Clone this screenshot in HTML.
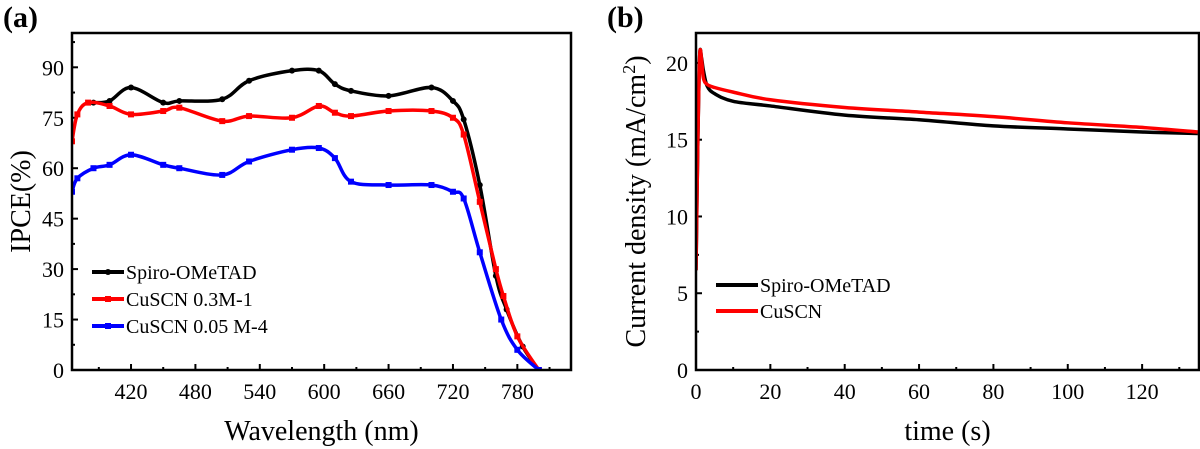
<!DOCTYPE html>
<html><head><meta charset="utf-8"><style>
html,body{margin:0;padding:0;background:#fff;}
svg{display:block;font-family:"Liberation Serif",serif;}
</style></head><body>
<svg id="c" width="1200" height="449" viewBox="0 0 1200 449"></svg>
<script>
// Panel (a) data
const aTicksX=[420,480,540,600,660,720,780];
const aTicksY=[0,15,30,45,60,75,90];
const spiroX=[385,400,420,450,465,505,530,570,595,610,625,660,700,720,730,745,760,770,785,800];
const spiroY=[79.5,80,84,79.5,80,80.5,86,89,89,85,83,81.5,84,80,74.5,55,28,18,7,0];
const redX=[365,370,380,400,420,450,465,505,530,570,595,610,625,660,700,720,730,745,760,767,780,800];
const redY=[68,76,79.5,78.5,76,77,78,74,75.5,75,78.5,76.5,75.5,77,77,75,70,50,30,22,10,0];
const blueX=[365,370,385,400,420,450,465,505,530,570,595,610,625,660,700,720,730,745,765,780,800];
const blueY=[53,57,60,61,64,61,60,58,62,65.5,66,63,56,55,55,53,51,35,15,6,0];
// Panel (b) data
const bTicksX=[0,20,40,60,80,100,120];
const bTicksY=[0,5,10,15,20];
const bSpiroT=[0,0.5,1,1.5,2,3,5,10,20,40,60,80,100,120,135];
const bSpiroJ=[6.5,15,20.5,20.3,19.5,18.5,18,17.5,17.2,16.6,16.3,15.9,15.7,15.5,15.4];
const bCuT=[0,0.5,1,1.5,2,3,5,10,20,40,60,80,100,120,135];
const bCuJ=[6.5,15,20.5,20.2,19,18.6,18.4,18.1,17.6,17.1,16.8,16.5,16.1,15.8,15.5];

const NS='http://www.w3.org/2000/svg';
const svg=document.getElementById('c');
function mk(tag,attrs,parent){const e=document.createElementNS(NS,tag);for(const k in attrs)e.setAttribute(k,attrs[k]);(parent||svg).appendChild(e);return e;}
function txt(s,attrs,parent){const e=mk('text',attrs,parent);e.textContent=s;return e;}
function smooth(pts){
  let d='M'+pts[0][0]+','+pts[0][1];
  for(let i=0;i<pts.length-1;i++){
    const p0=pts[Math.max(i-1,0)],p1=pts[i],p2=pts[i+1],p3=pts[Math.min(i+2,pts.length-1)];
    const c1x=p1[0]+(p2[0]-p0[0])/6,c1y=p1[1]+(p2[1]-p0[1])/6;
    const c2x=p2[0]-(p3[0]-p1[0])/6,c2y=p2[1]-(p3[1]-p1[1])/6;
    d+=` C${c1x},${c1y} ${c2x},${c2y} ${p2[0]},${p2[1]}`;
  }
  return d;
}
function panel(o){
  const g=mk('g',{});
  
  
  const sx=v=>o.L+(v-o.x0)/(o.x1-o.x0)*(o.R-o.L);
  const sy=v=>o.B-(v-o.y0)/(o.y1-o.y0)*(o.B-o.T);
  o.xt.forEach(v=>{
    const t=mk('line',{x1:sx(v),x2:sx(v),y1:o.B,y2:o.B-6,stroke:'#000','stroke-width':2},g);
    
    const l=txt(String(v),{x:sx(v),y:o.B+29,'text-anchor':'middle','font-size':22},g);
    
  });
  for(let v=o.xm0;v<o.x1;v+=o.xmStep){mk('line',{x1:sx(v),x2:sx(v),y1:o.B,y2:o.B-3,stroke:'#000','stroke-width':2},g);}
  o.yt.forEach(v=>{
    mk('line',{x1:o.L,x2:o.L+6,y1:sy(v),y2:sy(v),stroke:'#000','stroke-width':2},g);
    const l=txt(String(v),{x:o.L-8,y:sy(v)+8,'text-anchor':'end','font-size':22},g);
    
  });
  for(let v=o.ym0;v<o.y1;v+=o.ymStep){mk('line',{x1:o.L,x2:o.L+3,y1:sy(v),y2:sy(v),stroke:'#000','stroke-width':2},g);}
  const cg=mk('g',{'clip-path':'url(#'+o.clip+')'},g);
  const cp=mk('clipPath',{id:o.clip},g);mk('rect',{x:o.L,y:o.T,width:o.R-o.L,height:o.B-o.T},cp);
  o.series.forEach(s=>{
    const pts=s.x.map((v,i)=>[sx(v),sy(s.y[i])]);
    const p=mk('path',{d:smooth(pts),fill:'none',stroke:s.c,'stroke-width':3.5},cg);
    
    if(s.marker){pts.forEach(q=>{
      const m=s.marker==='circle'?mk('circle',{cx:q[0],cy:q[1],r:3,fill:s.c},cg):mk('rect',{x:q[0]-3,y:q[1]-3,width:6,height:6,fill:s.c},cg);
      
    });}
  });
  const fr=mk('rect',{x:o.L,y:o.T,width:o.R-o.L,height:o.B-o.T,fill:'none',stroke:'#000','stroke-width':2.5},g);
  
  const xt=txt(o.xTitle,{x:(o.L+o.R)/2,y:440,'text-anchor':'middle','font-size':28},g);
  
  const yt=mk('text',{x:0,y:0,'text-anchor':'middle','font-size':28,transform:`translate(${o.yTitleX},${(o.T+o.B)/2}) rotate(-90)`},g);
  yt.innerHTML=o.yTitle;
  
  const pl=txt(o.label,{x:o.labelX,y:27,'font-size':30,'font-weight':'bold'},g);
  
  o.legend.forEach((e,i)=>{
    const lg=mk('g',{},g);
    
    const y=o.legY+i*o.legDy;
    mk('line',{x1:o.legX,x2:o.legX+o.legW,y1:y,y2:y,stroke:e.c,'stroke-width':4},lg);
    if(e.marker==='circle')mk('circle',{cx:o.legX+o.legW/2,cy:y,r:3,fill:e.c},lg);
    else if(e.marker)mk('rect',{x:o.legX+o.legW/2-3,y:y-3,width:6,height:6,fill:e.c},lg);
    txt(e.t,{x:o.legX+o.legW+2,y:y+7,'font-size':20},lg);
  });
}
panel({name:'ipce-chart',clip:'ca',L:72,R:571,T:33,B:370,x0:365,x1:830,y0:0,y1:100.2,
  xt:aTicksX,yt:aTicksY,xm0:390,xmStep:60,ym0:7.5,ymStep:15,
  series:[{name:'spiro-line',x:spiroX,y:spiroY,c:'#000',marker:'circle'},
          {name:'cuscn-03m-line',x:redX,y:redY,c:'#ff0000',marker:'square'},
          {name:'cuscn-005m-line',x:blueX,y:blueY,c:'#0000ff',marker:'square'}],
  xTitle:'Wavelength (nm)',yTitle:'IPCE(%)',yTitleX:30,label:'(a)',labelX:3,
  legend:[{t:'Spiro-OMeTAD',c:'#000',marker:'circle'},{t:'CuSCN 0.3M-1',c:'#ff0000',marker:'square'},{t:'CuSCN 0.05 M-4',c:'#0000ff',marker:'square'}],
  legX:92,legW:32,legY:272,legDy:27});
panel({name:'current-density-chart',clip:'cb',L:696,R:1199,T:33,B:370,x0:0,x1:135.3,y0:0,y1:21.95,
  xt:bTicksX,yt:bTicksY,xm0:10,xmStep:20,ym0:2.5,ymStep:5,
  series:[{name:'spiro-line',x:bSpiroT,y:bSpiroJ,c:'#000'},{name:'cuscn-line',x:bCuT,y:bCuJ,c:'#ff0000'}],
  xTitle:'time (s)',yTitle:'Current density (mA/cm<tspan dy="-10" font-size="18">2</tspan><tspan dy="10">)</tspan>',yTitleX:645,label:'(b)',labelX:607,
  legend:[{t:'Spiro-OMeTAD',c:'#000'},{t:'CuSCN',c:'#ff0000'}],
  legX:716,legW:42,legY:285,legDy:26});
</script>
</body></html>
